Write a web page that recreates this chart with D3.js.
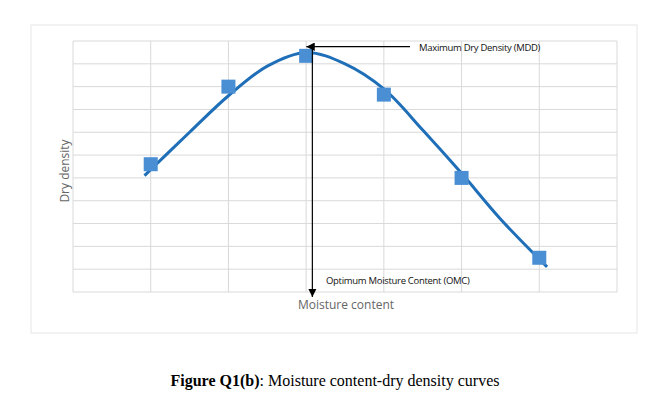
<!DOCTYPE html>
<html><head><meta charset="utf-8">
<script src="https://cdn.jsdelivr.net/npm/d3@7"></script>
<style>body{margin:0;background:#fff}</style>
</head><body>
<svg id="chart" width="661" height="400"></svg>
<script>
// measured points (x in grid columns, y in grid rows)
const pointX = [1, 2, 3, 4, 5, 6];
const pointY = [5.6, 9.0, 10.35, 8.65, 5.0, 1.5];
// fitted curve
const curveX = [0.92, 1.5, 2, 2.5, 3, 3.5, 4, 4.5, 5, 5.5, 6.1];
const curveY = [5.1, 7.0, 8.6, 9.9, 10.5, 10.0, 8.9, 7.1, 5.2, 3.2, 1.1];
const peakX = 3.08, peakY = 10.75;

const svg = d3.select('#chart');
const plotL = 73, plotR = 617, plotT = 41, plotB = 292;
const x = d3.scaleLinear().domain([0, 7]).range([plotL, plotR]);
const y = d3.scaleLinear().domain([0, 11]).range([plotB, plotT]);

svg.append('rect').attr('x', 31).attr('y', 25).attr('width', 606).attr('height', 308)
  .attr('fill', 'none').attr('stroke', '#e6e6e6');

const g = svg.append('g');
g.selectAll('.vx').data(d3.range(0, 8)).enter().append('line')
  .attr('x1', d => x(d)).attr('x2', d => x(d)).attr('y1', plotT).attr('y2', plotB)
  .attr('stroke', '#d9d9d9');
g.selectAll('.hy').data(d3.range(0, 12)).enter().append('line')
  .attr('y1', d => y(d)).attr('y2', d => y(d)).attr('x1', plotL).attr('x2', plotR)
  .attr('stroke', '#d9d9d9');

const line = d3.line().x(d => x(d[0])).y(d => y(d[1])).curve(d3.curveCatmullRom);
svg.append('path').datum(d3.zip(curveX, curveY)).attr('d', line)
  .attr('fill', 'none').attr('stroke', '#1f6fb8').attr('stroke-width', 3);

svg.selectAll('.pt').data(d3.zip(pointX, pointY)).enter().append('rect')
  .attr('x', d => x(d[0]) - 7).attr('y', d => y(d[1]) - 7)
  .attr('width', 14).attr('height', 14).attr('fill', '#4a8fd4');

const defs = svg.append('defs');
defs.append('marker').attr('id', 'ah').attr('viewBox', '0 0 10 10').attr('refX', 10).attr('refY', 5)
  .attr('markerWidth', 7).attr('markerHeight', 7).attr('orient', 'auto-start-reverse')
  .append('path').attr('d', 'M0,0L10,5L0,10z').attr('fill', '#000');

svg.append('line').attr('x1', x(peakX)).attr('x2', x(peakX)).attr('y1', y(peakY) - 2).attr('y2', 297)
  .attr('stroke', '#000').attr('stroke-width', 1.2).attr('marker-end', 'url(#ah)');
svg.append('line').attr('x1', 410).attr('x2', x(peakX) - 6).attr('y1', y(peakY)).attr('y2', y(peakY))
  .attr('stroke', '#000').attr('stroke-width', 1.2).attr('marker-end', 'url(#ah)');

const f = '"Open Sans", sans-serif';
svg.append('text').attr('x', 419).attr('y', 51).text('Maximum Dry Density (MDD)')
  .attr('font-family', f).attr('font-size', 9.5).attr('letter-spacing', -0.3).attr('fill', '#111');
svg.append('text').attr('x', 326).attr('y', 284).text('Optimum Moisture Content (OMC)')
  .attr('font-family', f).attr('font-size', 9.5).attr('letter-spacing', -0.3).attr('fill', '#111');
svg.append('text').attr('x', 346).attr('y', 309).attr('text-anchor', 'middle').text('Moisture content')
  .attr('font-family', f).attr('font-size', 12).attr('fill', '#666');
svg.append('text').attr('transform', 'translate(69,171) rotate(-90)').attr('text-anchor', 'middle')
  .text('Dry density').attr('font-family', f).attr('font-size', 12).attr('fill', '#666');

const cap = svg.append('text').attr('x', 335).attr('y', 386).attr('text-anchor', 'middle')
  .attr('font-family', '"Liberation Serif", serif').attr('font-size', 16);
cap.append('tspan').attr('font-weight', 'bold').text('Figure Q1(b)');
cap.append('tspan').text(': Moisture content-dry density curves');
</script>
</body></html>
